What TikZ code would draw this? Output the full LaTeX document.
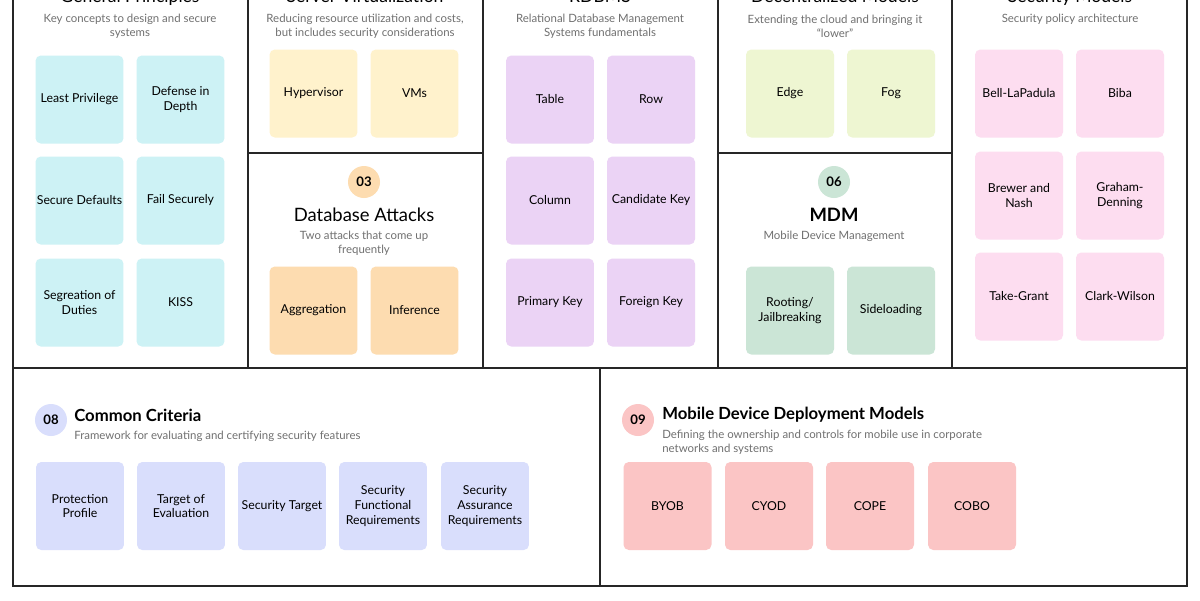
\documentclass[tikz,border=0pt]{standalone}
\usepackage{fontspec}
\setmainfont{Lato}
\definecolor{ccyan}{HTML}{CDF2F5}
\definecolor{cyel}{HTML}{FFF2CC}
\definecolor{corg}{HTML}{FDDCB0}
\definecolor{cpur}{HTML}{EBD3F5}
\definecolor{clime}{HTML}{EEF6D2}
\definecolor{cgrn}{HTML}{CBE5D6}
\definecolor{cpink}{HTML}{FDDDF0}
\definecolor{clav}{HTML}{D9DEFC}
\definecolor{csal}{HTML}{FBC5C5}
\definecolor{csub}{HTML}{707070}
\tikzset{
 card/.style={fill=#1,rounded corners=3pt,minimum width=1.76cm,minimum height=1.76cm,align=center,font=\fontsize{7}{8.4}\selectfont,inner sep=0pt},
 badge/.style={circle,fill=#1,minimum size=0.64cm,inner sep=0pt,font=\bfseries\fontsize{7.5}{9}\selectfont},
 ttl/.style={font=\fontsize{10}{12}\selectfont},
 sub/.style={text=csub,align=center,font=\fontsize{6.5}{8}\selectfont},
 frame/.style={draw=black!85,line width=0.7pt}
}
\begin{document}
\begin{tikzpicture}[x=0.02cm,y=-0.02cm]
\useasboundingbox (0,0) rectangle (1200,600);
\clip (0,0) rectangle (1200,600);
\fill[white] (0,0) rectangle (1200,600);
% frames
\draw[frame] (13,-20) -- (13,586) -- (1187,586) -- (1187,-20);
\draw[frame] (13,368) -- (1187,368);
\foreach \x in {248,483,718,952} \draw[frame] (\x,-20) -- (\x,368);
\draw[frame] (248,153) -- (483,153);
\draw[frame] (718,153) -- (952,153);
\draw[frame] (600,368) -- (600,586);
% top titles (cut)
\node[ttl,anchor=base] (t1) at (130,2) {General Principles};
\node[sub] (s1) at (130,26) {Key concepts to design and secure\\systems};
\node[ttl,anchor=base] (t2) at (365,2) {Server Virtualization};
\node[sub] (s2) at (365,26) {Reducing resource utilization and costs,\\but includes security considerations};
\node[ttl,anchor=base] (t4) at (600,2) {RDBMS};
\node[sub] (s4) at (600,26) {Relational Database Management\\Systems fundamentals};
\node[ttl,anchor=base] (t5) at (835,2) {Decentralized Models};
\node[sub] (s5) at (835,26) {Extending the cloud and bringing it\\``lower''};
\node[ttl,anchor=base] (t7) at (1070,2) {Security Models};
\node[sub] (s7) at (1070,19) {Security policy architecture};
% general principles
\node[card=ccyan] (a1) at (79.5,99.5) {Least Privilege};
\node[card=ccyan] (a2) at (180.5,99.5) {Defense in\\Depth};
\node[card=ccyan] (a3) at (79.5,200.5) {Secure Defaults};
\node[card=ccyan] (a4) at (180.5,200.5) {Fail Securely};
\node[card=ccyan] (a5) at (79.5,302.5) {Segreation of\\Duties};
\node[card=ccyan] (a6) at (180.5,302.5) {KISS};
% server virtualization
\node[card=cyel] (b1) at (313.5,93.5) {Hypervisor};
\node[card=cyel] (b2) at (414.5,93.5) {VMs};
% db attacks
\node[badge=corg] (n3) at (364,182) {03};
\node[ttl,font=\fontsize{10.5}{12}\selectfont] (t3) at (364,215) {Database Attacks};
\node[sub] (s3) at (364,243) {Two attacks that come up\\frequently};
\node[card=corg] (c1) at (313.5,310.5) {Aggregation};
\node[card=corg] (c2) at (414.5,310.5) {Inference};
% RDBMS
\node[card=cpur] (d1) at (550,99.5) {Table};
\node[card=cpur] (d2) at (651,99.5) {Row};
\node[card=cpur] (d3) at (550,200.5) {Column};
\node[card=cpur] (d4) at (651,200.5) {Candidate Key};
\node[card=cpur] (d5) at (550,302.5) {Primary Key};
\node[card=cpur] (d6) at (651,302.5) {Foreign Key};
% decentralized
\node[card=clime] (e1) at (790,93.5) {Edge};
\node[card=clime] (e2) at (891,93.5) {Fog};
% MDM
\node[badge=cgrn] (n6) at (834,182) {06};
\node[ttl,font=\bfseries\fontsize{10.5}{12}\selectfont] (t6) at (834,215) {MDM};
\node[sub] (s6) at (834,236) {Mobile Device Management};
\node[card=cgrn] (f1) at (790,310.5) {Rooting/\\Jailbreaking};
\node[card=cgrn] (f2) at (891,310.5) {Sideloading};
% security models
\node[card=cpink] (g1) at (1019,93.5) {Bell-LaPadula};
\node[card=cpink] (g2) at (1120,93.5) {Biba};
\node[card=cpink] (g3) at (1019,195.5) {Brewer and\\Nash};
\node[card=cpink] (g4) at (1120,195.5) {Graham-\\Denning};
\node[card=cpink] (g5) at (1019,296.5) {Take-Grant};
\node[card=cpink] (g6) at (1120,296.5) {Clark-Wilson};
% common criteria
\node[badge=clav] (n8) at (51,420) {08};
\node[ttl,font=\bfseries\fontsize{9.5}{12}\selectfont,anchor=west,inner sep=0pt] (t8) at (74,415) {Common Criteria};
\node[sub,anchor=west,inner sep=0pt] (s8) at (74,436) {Framework for evaluating and certifying security features};
\node[card=clav] (h1) at (80,506) {Protection\\Profile};
\node[card=clav] (h2) at (181,506) {Target of\\Evaluation};
\node[card=clav] (h3) at (282,506) {Security Target};
\node[card=clav] (h4) at (383,506) {Security\\Functional\\Requirements};
\node[card=clav] (h5) at (485,506) {Security\\Assurance\\Requirements};
% deployment
\node[badge=csal] (n9) at (638,420) {09};
\node[ttl,font=\bfseries\fontsize{9.5}{12}\selectfont,anchor=west,inner sep=0pt] (t9) at (662,415) {Mobile Device Deployment Models};
\node[sub,anchor=north west,align=left,inner sep=0pt] (s9) at (662,430) {Defining the ownership and controls for mobile use in corporate\\networks and systems};
\node[card=csal] (k1) at (667.5,506) {BYOB};
\node[card=csal] (k2) at (769,506) {CYOD};
\node[card=csal] (k3) at (870,506) {COPE};
\node[card=csal] (k4) at (972,506) {COBO};
\end{tikzpicture}
\end{document}
